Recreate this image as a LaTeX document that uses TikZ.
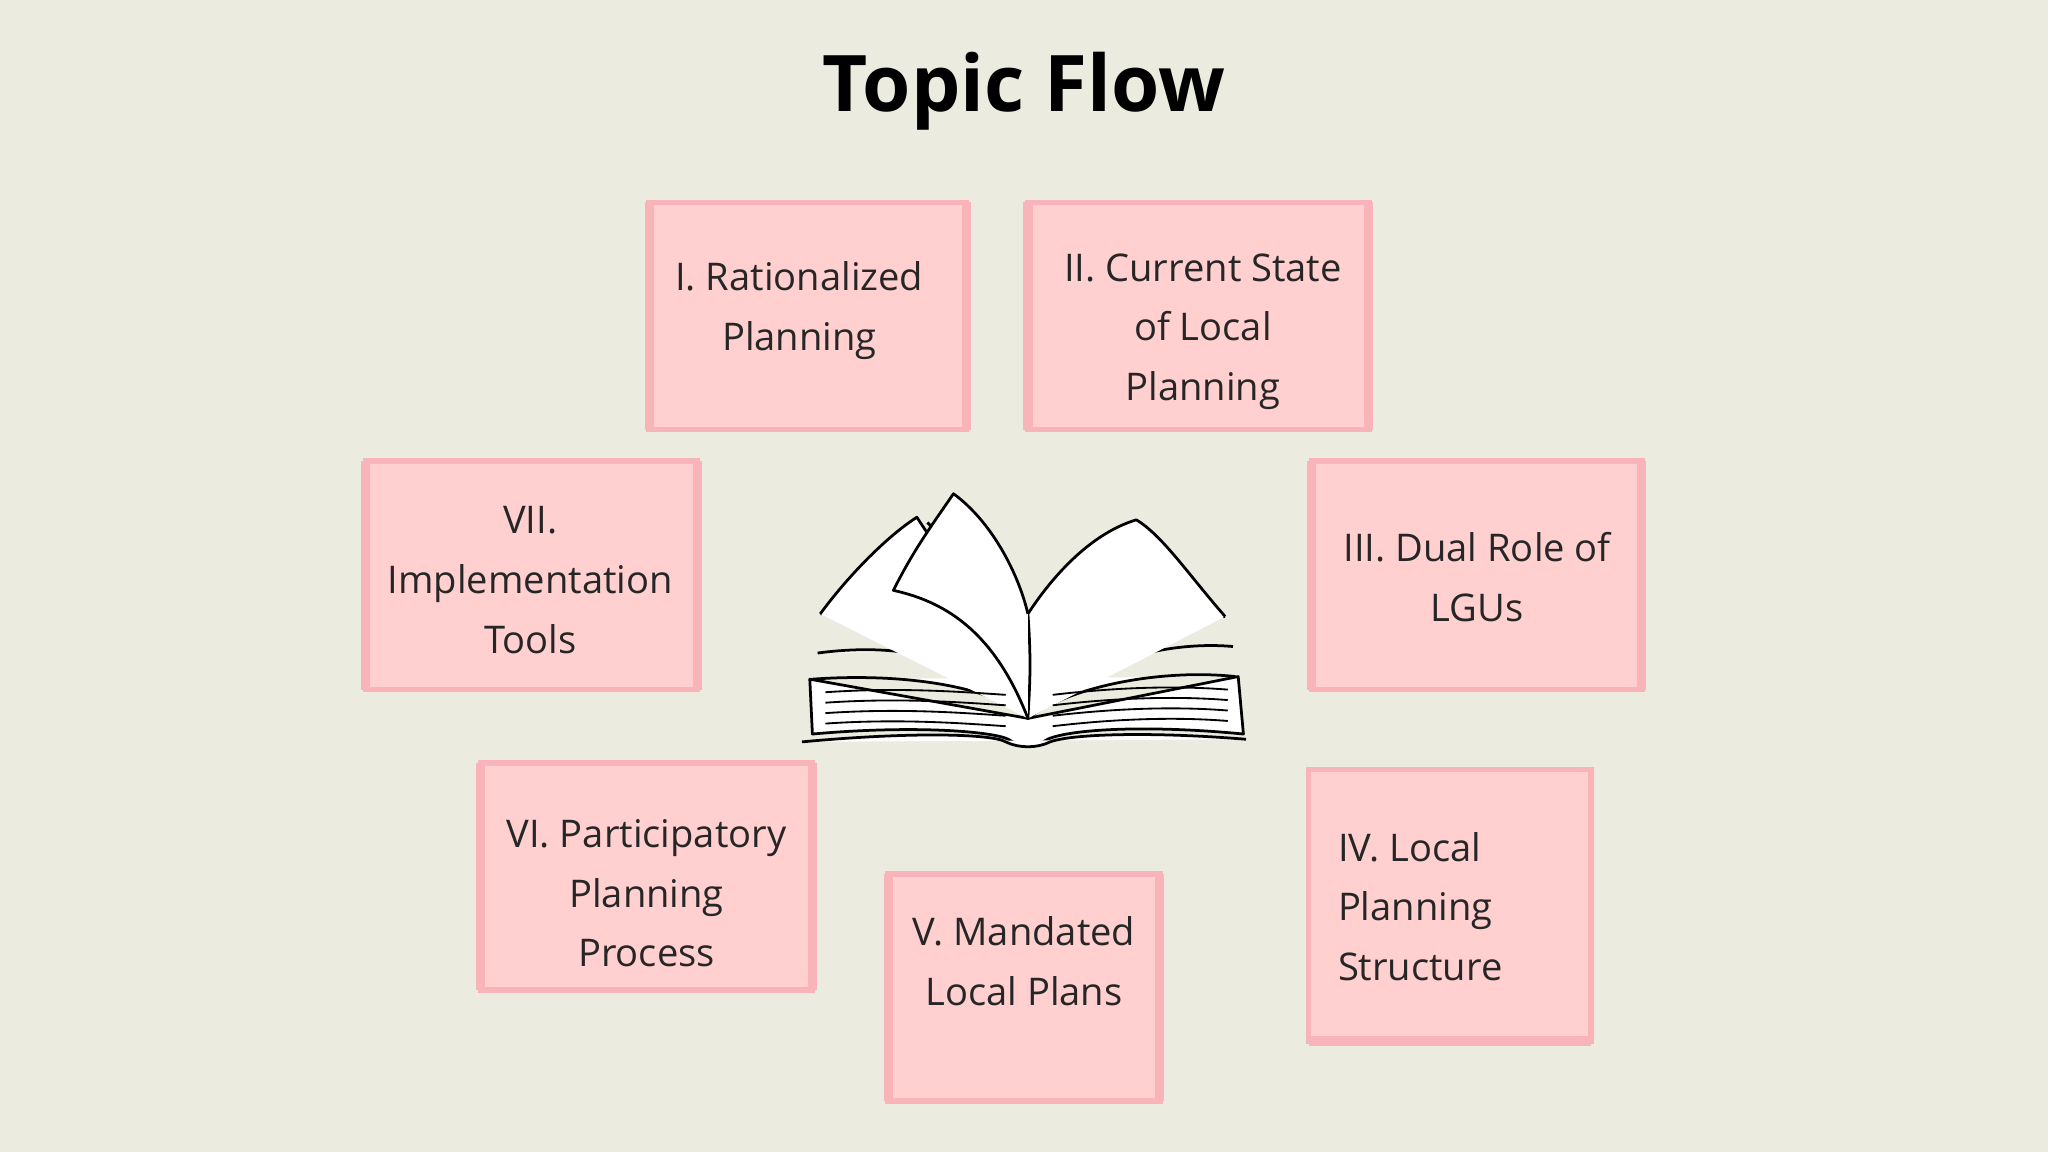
\documentclass[tikz,border=0pt]{standalone}
\usepackage{fontspec}
\setmainfont{Open Sans}
\definecolor{bg}{HTML}{ECEBDF}
\definecolor{note}{HTML}{FFD0CF}
\definecolor{edge}{HTML}{F8B4B8}
\tikzset{
 notebox/.style={fill=note, draw=edge, line width=1.2pt, inner sep=0pt},
 notetext/.style={align=center, font=\fontsize{8.3pt}{13pt}\selectfont, text=black!85},
 pg/.style={draw=black, line width=0.6pt, fill=white, line join=round}
}
\begin{document}
\begin{tikzpicture}[x=0.01cm,y=-0.01cm]
\fill[bg] (0,0) rectangle (1568,882);
\useasboundingbox (0,0) rectangle (1568,882);
\node[font=\fontsize{17pt}{20pt}\selectfont\bfseries] (title) at (784,70) {Topic Flow};
% boxes
\fill[notebox] (497,155) rectangle (740,329);
\draw[edge,line width=2pt] (497,155)--(497,329) (740,155)--(740,329);
\node[notetext] (b1) at (612,238) {I. Rationalized\\Planning};
\fill[notebox] (787,155) rectangle (1048,329);
\draw[edge,line width=2pt] (787,155)--(787,329) (1048,155)--(1048,329);
\node[notetext] (b2) at (921,254) {II. Current State\\of Local\\Planning};
\fill[notebox] (280,353) rectangle (534,528);
\draw[edge,line width=2pt] (280,353)--(280,528) (534,353)--(534,528);
\node[notetext] (b7) at (406,444) {VII.\\Implementation\\Tools};
\fill[notebox] (1004,353) rectangle (1257,528);
\draw[edge,line width=2pt] (1004,353)--(1004,528) (1257,353)--(1257,528);
\node[notetext] (b3) at (1131,442) {III. Dual Role of\\LGUs};
\fill[notebox] (368,584) rectangle (622,758);
\draw[edge,line width=2pt] (368,584)--(368,758) (622,584)--(622,758);
\node[notetext] (b6) at (495,684) {VI. Participatory\\Planning\\Process};
\fill[notebox] (680,669) rectangle (888,843);
\draw[edge,line width=2pt] (680,669)--(680,843) (888,669)--(888,843);
\node[notetext] (b5) at (784,736) {V. Mandated\\Local Plans};
\fill[notebox] (1002,589) rectangle (1218,797);
\draw[edge,line width=2pt] (1002,797)--(1218,797);
\node[notetext,align=left,anchor=west] (b4) at (1012,694) {IV. Local\\Planning\\Structure};
% book
\draw[pg] (620,520)--(622,562) .. controls (700,555) and (760,560) .. (772,566) .. controls (780,572) and (794,572) .. (802,566) .. controls (820,558) and (880,555) .. (952,562) -- (948,518) -- (787,550) -- cycle;
\draw[pg] (614,568) .. controls (700,560) and (760,562) .. (770,568) .. controls (780,573) and (794,573) .. (804,568) .. controls (820,562) and (880,560) .. (954,566);
\draw[pg] (622,520) .. controls (690,515) and (760,525) .. (787,550) .. controls (820,525) and (890,512) .. (946,518);
\draw[pg] (626,500) .. controls (700,490) and (760,510) .. (787,550) .. controls (820,510) and (890,490) .. (944,495);
\draw[pg] (628,470) .. controls (690,460) and (760,480) .. (787,550) .. controls (815,480) and (880,470) .. (938,472);
\draw[pg] (628,470) .. controls (650,440) and (680,410) .. (702,396) .. controls (730,440) and (770,480) .. (787,550);
\draw[pg] (787,550) .. controls (780,480) and (760,450) .. (718,408) -- (710,400);
\draw[pg] (938,472) .. controls (910,440) and (890,410) .. (870,398) .. controls (830,410) and (800,450) .. (787,470) .. controls (790,510) and (788,530) .. (787,550);
\draw[pg] (787,550) .. controls (760,480) and (720,460) .. (684,452) .. controls (700,420) and (715,400) .. (730,378) .. controls (760,400) and (780,440) .. (787,470);
\foreach \y in {530,538,546,554}{
 \draw[line width=0.4pt] (632,\y) .. controls (690,\y-4) and (740,\y) .. (770,\y+2);
 \draw[line width=0.4pt] (806,\y+2) .. controls (840,\y-2) and (890,\y-6) .. (940,\y-2);
}
\end{tikzpicture}
\end{document}
